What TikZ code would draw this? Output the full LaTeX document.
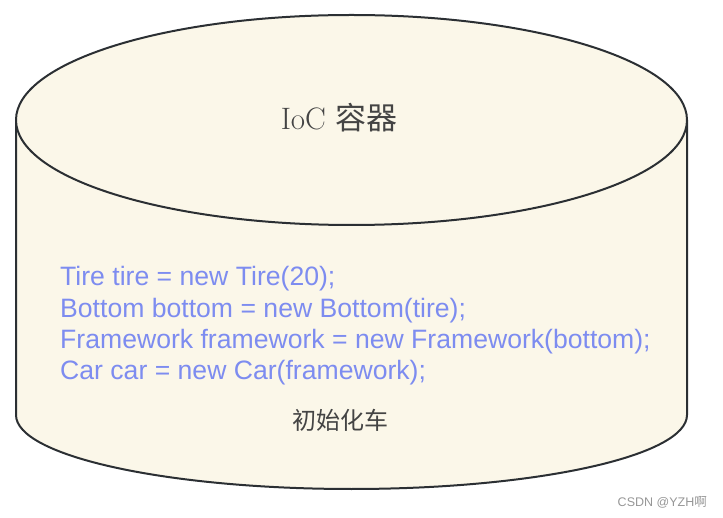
\documentclass[tikz,border=0pt]{standalone}
\usepackage{fontspec}
\setmainfont{Latin Modern Roman}
\newfontfamily\codefont{Liberation Sans}
\newfontfamily\cjk{Noto Sans CJK SC}
\definecolor{cylfill}{RGB}{251,247,233}
\definecolor{cylline}{RGB}{43,47,51}
\definecolor{codeblue}{RGB}{125,140,240}
\definecolor{labelgrey}{RGB}{68,68,68}
\definecolor{markgrey}{RGB}{150,150,150}
\tikzset{
  cylstroke/.style={draw=cylline, line width=2pt, line join=round},
  codeline/.style={anchor=base west, inner sep=0pt, text=codeblue, font=\codefont\fontsize{26.6}{30}\selectfont},
  titlelabel/.style={anchor=base, inner sep=0pt, text=labelgrey, font=\fontsize{31}{34}\selectfont},
  sublabel/.style={anchor=base, inner sep=0pt, text=labelgrey, font=\cjk\fontsize{24}{28}\selectfont},
  watermark/.style={anchor=base east, inner sep=0pt, text=markgrey, font=\codefont\fontsize{12.5}{14}\selectfont}
}
\begin{document}
\begin{tikzpicture}[x=1pt,y=1pt]
\useasboundingbox (0,0) rectangle (723,517);
% cylinder body
\fill[cylfill] (16,397) -- (16,102) arc[start angle=180,end angle=360,x radius=335.5pt,y radius=74pt] -- (687,397) -- cycle;
\draw[cylstroke] (16,397) -- (16,102) arc[start angle=180,end angle=360,x radius=335.5pt,y radius=74pt] -- (687,397);
% top ellipse
\filldraw[cylstroke, fill=cylfill] (351.5,397) ellipse[x radius=335.5pt, y radius=105pt];
% texts
\node[titlelabel] (title) at (339,387.5) {IoC {\cjk 容器}};
\node[codeline] (l1) at (60,231.5) {Tire tire = new Tire(20);};
\node[codeline] (l2) at (60,199.5) {Bottom bottom = new Bottom(tire);};
\node[codeline] (l3) at (60,168.5) {Framework framework = new Framework(bottom);};
\node[codeline] (l4) at (60,137.5) {Car car = new Car(framework);};
\node[sublabel] (init) at (340,88) {初始化车};
\node[watermark] (wm) at (707,10.5) {CSDN @YZH{\cjk 啊}};
\end{tikzpicture}
\end{document}
